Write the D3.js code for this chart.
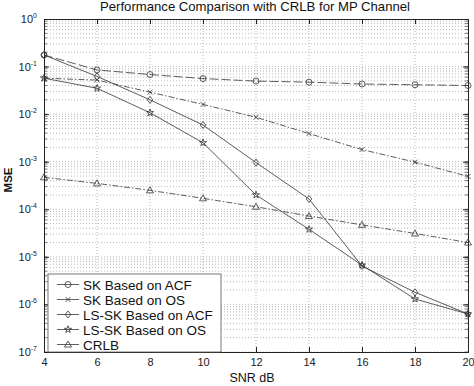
<!DOCTYPE html>
<html>
<head>
<meta charset="utf-8">
<script src="https://cdn.jsdelivr.net/npm/d3@7"></script>
<style>
  body { margin: 0; background: #fff; }
  svg { font-family: "Liberation Sans", Arial, sans-serif; }
</style>
</head>
<body>
<div id="chart"></div>
<script>
// SNR values (dB)
const snr = [4, 6, 8, 10, 12, 14, 16, 18, 20];

// MSE per method
const skAcf   = [0.175, 0.085, 0.068, 0.056, 0.0495, 0.047, 0.043, 0.0415, 0.040];
const skOs    = [0.057, 0.052, 0.029, 0.016, 0.0086, 0.0039, 0.0018, 0.00098, 0.00049];
const lsSkAcf = [0.175, 0.062, 0.020, 0.0059, 0.00096, 0.000165, 6.4e-6, 1.8e-6, 6.3e-7];
const lsSkOs  = [0.057, 0.035, 0.0107, 0.0025, 0.0002, 3.8e-5, 6.7e-6, 1.3e-6, 6.3e-7];
const crlb    = [4.7e-4, 3.5e-4, 2.5e-4, 1.7e-4, 1.13e-4, 7.2e-5, 4.7e-5, 3.1e-5, 2.0e-5];

const seriesNames = ["SK Based on ACF", "SK Based on OS", "LS-SK Based on ACF", "LS-SK Based on OS", "CRLB"];
const xTicks = [4, 6, 8, 10, 12, 14, 16, 18, 20];
const yExponents = [0, -1, -2, -3, -4, -5, -6, -7];

const series = [
  { name: seriesNames[0], values: skAcf,   marker: "circle",   dash: "9,3" },
  { name: seriesNames[1], values: skOs,    marker: "x",        dash: "6,2,1.5,2" },
  { name: seriesNames[2], values: lsSkAcf, marker: "diamond",  dash: null },
  { name: seriesNames[3], values: lsSkOs,  marker: "star",     dash: null },
  { name: seriesNames[4], values: crlb,    marker: "triangle", dash: "6,2,1.5,2" }
];

const W = 474, H = 386;
const margin = { top: 19, right: 6, bottom: 34, left: 44 };
const width = W - margin.left - margin.right;
const height = H - margin.top - margin.bottom;
const INK = "#333";

const svg = d3.select("#chart").append("svg")
    .attr("width", W)
    .attr("height", H);

const g = svg.append("g")
    .attr("transform", `translate(${margin.left},${margin.top})`);

const x = d3.scaleLinear().domain([4, 20]).range([0, width]);
const y = d3.scaleLog().domain([1e-7, 1]).range([height, 0]);

// grid: minor horizontal lines in each decade, plus vertical lines at x ticks
const minor = [];
yExponents.slice(0, -1).forEach(e => {
  for (let k = 1; k <= 9; k++) minor.push(k * Math.pow(10, e - 1));
});
g.append("g").selectAll("line")
  .data(minor)
  .join("line")
    .attr("x1", 0).attr("x2", width)
    .attr("y1", d => y(d)).attr("y2", d => y(d))
    .attr("stroke", "#9a9a9a")
    .attr("stroke-width", 0.7)
    .attr("stroke-dasharray", "1,2");

g.append("g").selectAll("line")
  .data(xTicks.slice(1, -1))
  .join("line")
    .attr("x1", d => x(d)).attr("x2", d => x(d))
    .attr("y1", 0).attr("y2", height)
    .attr("stroke", "#9a9a9a")
    .attr("stroke-width", 0.7)
    .attr("stroke-dasharray", "1,2");

// axes with inward ticks (MATLAB style)
const xAxis = g.append("g")
    .attr("transform", `translate(0,${height})`)
    .call(d3.axisBottom(x).tickValues(xTicks).tickSize(-5).tickPadding(6));
xAxis.selectAll("text").style("font-size", "11px").attr("fill", "#222");

g.append("g")
    .call(d3.axisTop(x).tickValues(xTicks).tickSize(-5).tickFormat(""));

const yTickVals = yExponents.map(e => Math.pow(10, e));
g.append("g")
    .call(d3.axisLeft(y).tickValues(yTickVals).tickSize(-5).tickFormat(""));
g.append("g")
    .attr("transform", `translate(${width},0)`)
    .call(d3.axisRight(y).tickValues(yTickVals).tickSize(-5).tickFormat(""));

// minor ticks on y
[[0, 3], [width, -3]].forEach(([px, len]) => {
  g.append("g").selectAll("line")
    .data(minor)
    .join("line")
      .attr("x1", px).attr("x2", px + len)
      .attr("y1", d => y(d)).attr("y2", d => y(d))
      .attr("stroke", "#222")
      .attr("stroke-width", 0.6);
});

// y tick labels 10^n
const yl = g.append("g");
yExponents.forEach(e => {
  const t = yl.append("text")
      .attr("x", -7)
      .attr("y", y(Math.pow(10, e)) + 4)
      .attr("text-anchor", "end")
      .attr("fill", "#222")
      .style("font-size", "11px");
  t.append("tspan").text("10");
  t.append("tspan").attr("dy", -5).style("font-size", "7px").text(e === 0 ? "0" : e);
});

g.selectAll(".domain").attr("stroke", "#222");
g.selectAll(".tick line").attr("stroke", "#222");

// series
const line = d3.line()
    .x((d, i) => x(snr[i]))
    .y(d => y(d));

function drawMarker(sel, type, cx, cy) {
  const s = 3;
  const common = el => el.attr("fill", "none").attr("stroke", INK).attr("stroke-width", 0.8);
  if (type === "circle") {
    common(sel.append("circle").attr("cx", cx).attr("cy", cy).attr("r", s));
  } else if (type === "x") {
    common(sel.append("path").attr("d", `M${cx - 2.5},${cy - 2.5}L${cx + 2.5},${cy + 2.5}M${cx - 2.5},${cy + 2.5}L${cx + 2.5},${cy - 2.5}`));
  } else if (type === "diamond") {
    common(sel.append("path").attr("d", `M${cx},${cy - 3.5}L${cx + 2.8},${cy}L${cx},${cy + 3.5}L${cx - 2.8},${cy}Z`));
  } else if (type === "star") {
    common(sel.append("path")
      .attr("d", d3.symbol().type(d3.symbolStar).size(16)())
      .attr("transform", `translate(${cx},${cy})`));
  } else if (type === "triangle") {
    common(sel.append("path").attr("d", `M${cx},${cy - 3.5}L${cx + 3.5},${cy + 2.5}L${cx - 3.5},${cy + 2.5}Z`));
  }
}

series.forEach(s => {
  g.append("path")
      .datum(s.values)
      .attr("d", line)
      .attr("fill", "none")
      .attr("stroke", INK)
      .attr("stroke-width", 0.8)
      .attr("stroke-dasharray", s.dash);
  const mg = g.append("g");
  s.values.forEach((v, i) => drawMarker(mg, s.marker, x(snr[i]), y(v)));
});

// legend
const legend = g.append("g").attr("transform", "translate(4,255)");
legend.append("rect")
    .attr("width", 173).attr("height", 78)
    .attr("fill", "#fff")
    .attr("stroke", "#555")
    .attr("stroke-width", 0.8);
series.forEach((s, i) => {
  const ly = 10.5 + i * 15;
  legend.append("line")
      .attr("x1", 9).attr("x2", 31)
      .attr("y1", ly).attr("y2", ly)
      .attr("stroke", INK).attr("stroke-width", 0.8);
  drawMarker(legend, s.marker, 20, ly);
  legend.append("text")
      .attr("x", 35).attr("y", ly + 5)
      .attr("fill", "#111")
      .style("font-size", "13.5px")
      .text(s.name);
});

// title and axis labels
svg.append("text")
    .attr("x", 255)
    .attr("y", 11)
    .attr("text-anchor", "middle")
    .attr("fill", "#111")
    .attr("textLength", 310)
    .attr("lengthAdjust", "spacingAndGlyphs")
    .style("font-size", "13px")
    .text("Performance Comparison with CRLB for MP Channel");

svg.append("text")
    .attr("x", 252)
    .attr("y", 382)
    .attr("text-anchor", "middle")
    .attr("fill", "#111")
    .style("font-size", "12.5px")
    .text("SNR dB");

svg.append("text")
    .attr("transform", `translate(12,180) rotate(-90)`)
    .attr("text-anchor", "middle")
    .attr("fill", "#111")
    .style("font-size", "11.5px")
    .style("font-weight", "bold")
    .text("MSE");
</script>
</body>
</html>
